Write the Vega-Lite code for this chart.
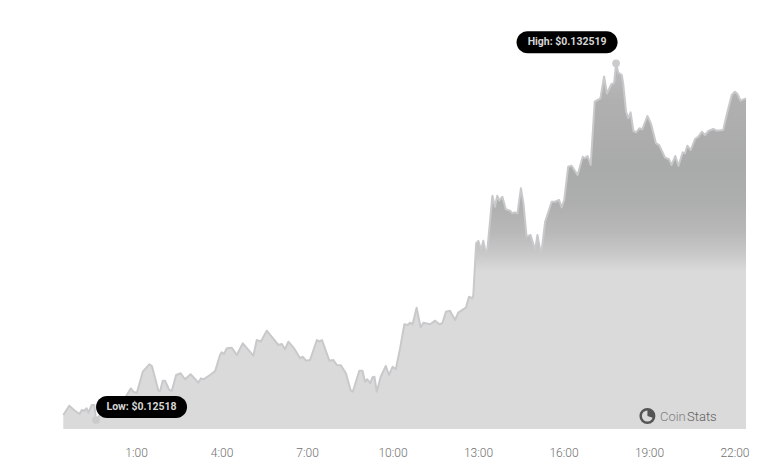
{
  "$schema": "https://vega.github.io/schema/vega-lite/v6.json",
  "width": 683,
  "height": 409,
  "autosize": {"type": "none"},
  "padding": {"left": 63, "top": 20, "right": 14, "bottom": 43},
  "background": "white",
  "datasets": {
    "prices": [
      {"hour":-1.59,"price":0.125288},{"hour":-1.38,"price":0.125479},{"hour":-1.18,"price":0.125376},{"hour":-1.02,"price":0.125308},{"hour":-0.94,"price":0.125391},{"hour":-0.86,"price":0.12537},{"hour":-0.77,"price":0.125426},{"hour":-0.71,"price":0.125335},{"hour":-0.59,"price":0.125493},{"hour":-0.5,"price":0.125493},{"hour":-0.44,"price":0.125185},{"hour":-0.16,"price":0.125391},{"hour":0.23,"price":0.125493},{"hour":0.58,"price":0.125637},{"hour":0.78,"price":0.125837},{"hour":0.87,"price":0.125767},{"hour":0.99,"price":0.12574},
      {"hour":1.2,"price":0.126178},{"hour":1.43,"price":0.12633},{"hour":1.52,"price":0.126295},{"hour":1.75,"price":0.125787},{"hour":1.81,"price":0.125781},{"hour":1.9,"price":0.125993},{"hour":1.98,"price":0.125993},{"hour":2.13,"price":0.125802},{"hour":2.22,"price":0.125787},{"hour":2.37,"price":0.12611},{"hour":2.53,"price":0.126145},{"hour":2.68,"price":0.126022},{"hour":2.88,"price":0.126125},{"hour":3.15,"price":0.125952},{"hour":3.24,"price":0.126042},{"hour":3.33,"price":0.126022},{"hour":3.56,"price":0.12611},{"hour":3.74,"price":0.126192},{"hour":3.91,"price":0.126521},{"hour":3.97,"price":0.126577},
      {"hour":4.05,"price":0.126542},{"hour":4.15,"price":0.126659},{"hour":4.32,"price":0.126672},{"hour":4.5,"price":0.126521},{"hour":4.71,"price":0.126762},{"hour":5.08,"price":0.126507},{"hour":5.2,"price":0.12683},{"hour":5.34,"price":0.126795},{"hour":5.55,"price":0.127021},{"hour":5.96,"price":0.126727},{"hour":6.08,"price":0.126748},{"hour":6.19,"price":0.126639},{"hour":6.31,"price":0.126795},{"hour":6.51,"price":0.126659},{"hour":6.72,"price":0.126454},{"hour":6.81,"price":0.126486},{"hour":6.93,"price":0.126404},
      {"hour":7.07,"price":0.126419},{"hour":7.31,"price":0.12683},{"hour":7.4,"price":0.126795},{"hour":7.49,"price":0.12683},{"hour":7.75,"price":0.126404},{"hour":7.89,"price":0.126419},{"hour":8.01,"price":0.126316},{"hour":8.15,"price":0.12631},{"hour":8.33,"price":0.126145},{"hour":8.5,"price":0.125787},{"hour":8.57,"price":0.125767},{"hour":8.8,"price":0.126199},{"hour":8.91,"price":0.126199},{"hour":9.0,"price":0.125972},{"hour":9.08,"price":0.126022},{"hour":9.18,"price":0.12594},{"hour":9.26,"price":0.126063},{"hour":9.33,"price":0.126075},{"hour":9.41,"price":0.125767},{"hour":9.55,"price":0.126075},{"hour":9.73,"price":0.126295},{"hour":9.84,"price":0.12611},{"hour":9.97,"price":0.126281},
      {"hour":10.08,"price":0.126227},{"hour":10.23,"price":0.126659},{"hour":10.38,"price":0.127153},{"hour":10.5,"price":0.127138},{"hour":10.58,"price":0.127186},{"hour":10.67,"price":0.127153},{"hour":10.81,"price":0.127494},{"hour":10.95,"price":0.127091},{"hour":11.05,"price":0.127186},{"hour":11.28,"price":0.127153},{"hour":11.46,"price":0.127227},{"hour":11.61,"price":0.127153},{"hour":11.71,"price":0.127173},{"hour":11.84,"price":0.127412},{"hour":11.98,"price":0.127432},{"hour":12.16,"price":0.127241},{"hour":12.27,"price":0.127391},{"hour":12.54,"price":0.127494},{"hour":12.65,"price":0.12772},{"hour":12.77,"price":0.127687},{"hour":12.8,"price":0.127755},{"hour":12.9,"price":0.128818},{"hour":12.98,"price":0.128865},
      {"hour":13.07,"price":0.12868},{"hour":13.15,"price":0.128871},{"hour":13.27,"price":0.128542},{"hour":13.47,"price":0.129797},{"hour":13.56,"price":0.12957},{"hour":13.64,"price":0.129797},{"hour":13.71,"price":0.129694},{"hour":13.82,"price":0.129776},{"hour":13.94,"price":0.129517},{"hour":14.09,"price":0.129488},{"hour":14.17,"price":0.129435},{"hour":14.26,"price":0.129455},{"hour":14.35,"price":0.129435},{"hour":14.47,"price":0.129949},{"hour":14.56,"price":0.12964},{"hour":14.67,"price":0.128954},{"hour":14.81,"price":0.128989},{"hour":14.97,"price":0.12868},{"hour":15.05,"price":0.128989},{"hour":15.18,"price":0.128577},{"hour":15.32,"price":0.129262},{"hour":15.55,"price":0.129673},{"hour":15.67,"price":0.129673},{"hour":15.81,"price":0.129708},{"hour":15.9,"price":0.129558},{"hour":15.99,"price":0.129708},
      {"hour":16.13,"price":0.130393},{"hour":16.25,"price":0.130413},{"hour":16.46,"price":0.130222},{"hour":16.64,"price":0.130598},{"hour":16.72,"price":0.130566},{"hour":16.81,"price":0.130613},{"hour":16.92,"price":0.130428},{"hour":17.06,"price":0.131729},{"hour":17.26,"price":0.131799},{"hour":17.39,"price":0.132247},{"hour":17.49,"price":0.131898},{"hour":17.64,"price":0.132083},{"hour":17.74,"price":0.132114},{"hour":17.81,"price":0.132519},{"hour":17.89,"price":0.132326},{"hour":18.01,"price":0.132278},{"hour":18.06,"price":0.132107},{"hour":18.16,"price":0.131524},{"hour":18.24,"price":0.131388},{"hour":18.32,"price":0.131511},{"hour":18.42,"price":0.131127},{"hour":18.51,"price":0.1311},{"hour":18.63,"price":0.131182},{"hour":18.73,"price":0.131162},{"hour":18.91,"price":0.131435},
      {"hour":19.04,"price":0.131271},{"hour":19.21,"price":0.130874},{"hour":19.32,"price":0.130839},{"hour":19.53,"price":0.130578},{"hour":19.67,"price":0.130545},{"hour":19.76,"price":0.130428},{"hour":19.89,"price":0.130613},{"hour":20.0,"price":0.130413},{"hour":20.15,"price":0.130689},{"hour":20.23,"price":0.130668},{"hour":20.31,"price":0.130825},{"hour":20.43,"price":0.130736},{"hour":20.58,"price":0.130962},{"hour":20.7,"price":0.13101},{"hour":20.82,"price":0.131112},{"hour":20.93,"price":0.131045},{"hour":21.05,"price":0.131127},{"hour":21.22,"price":0.131168},{"hour":21.34,"price":0.131133},{"hour":21.57,"price":0.131147},{"hour":21.69,"price":0.131456},{"hour":21.87,"price":0.131867},{"hour":21.98,"price":0.131935},{"hour":22.07,"price":0.131888},{"hour":22.18,"price":0.13175},{"hour":22.37,"price":0.131799}
    ],
    "extremes": [
      {"kind": "Low", "hour": -0.44, "price": 0.125185, "label": "Low: $0.12518"},
      {"kind": "High", "hour": 17.81, "price": 0.132519, "label": "High: $0.132519"}
    ],
    "logo": [{"hour": 18.91, "price": 0.125267}],
    "wordmark": [
      {"hour": 19.35, "price": 0.125247, "word": "Coin"},
      {"hour": 20.3, "price": 0.125247, "word": "Stats"}
    ]
  },
  "encoding": {
    "x": {
      "field": "hour",
      "type": "quantitative",
      "scale": {"domain": [-1.6, 22.37], "nice": false, "zero": false},
      "axis": {
        "title": null,
        "values": [1, 4, 7, 10, 13, 16, 19, 22],
        "labelExpr": "datum.value + ':00'",
        "domain": false,
        "ticks": false,
        "grid": false,
        "labelFont": "Roboto",
        "labelFontSize": 12,
        "labelFontWeight": 300,
        "labelColor": "#707070",
        "labelPadding": 18,
        "labelOffset": -1,
        "labelFlush": false
      }
    },
    "y": {
      "field": "price",
      "type": "quantitative",
      "scale": {"domain": [0.125, 0.133409], "nice": false, "zero": false},
      "axis": null
    }
  },
  "layer": [
    {
      "data": {"name": "prices"},
      "mark": {
        "type": "area",
        "color": {
          "gradient": "linear",
          "x1": 0, "y1": 0, "x2": 0, "y2": 1,
          "stops": [
            {"offset": 0, "color": "#bcbcbc"},
            {"offset": 0.1, "color": "#b0b0b1"},
            {"offset": 0.28, "color": "#a9aaaa"},
            {"offset": 0.38, "color": "#adaeae"},
            {"offset": 0.46, "color": "#b8b8b8"},
            {"offset": 0.52, "color": "#c8c8c8"},
            {"offset": 0.57, "color": "#dadada"},
            {"offset": 1, "color": "#dadada"}
          ]
        }
      },
      "encoding": {"y2": {"datum": 0.125}}
    },
    {
      "data": {"name": "prices"},
      "mark": {"type": "line", "color": "#c9c9cb", "strokeWidth": 2, "strokeJoin": "round"}
    },
    {
      "data": {"name": "extremes"},
      "mark": {"type": "point", "filled": true, "size": 60, "color": "#cbcbcd", "opacity": 1}
    },
    {
      "data": {"name": "extremes"},
      "transform": [{"filter": "datum.kind === 'Low'"}],
      "mark": {"type": "rect", "width": 91, "height": 22, "cornerRadius": 11, "color": "#000000", "xOffset": 45.5, "yOffset": -13}
    },
    {
      "data": {"name": "extremes"},
      "transform": [{"filter": "datum.kind === 'Low'"}],
      "mark": {"type": "text", "font": "Roboto", "fontSize": 10.5, "fontWeight": 700, "color": "#d6d6d6", "dx": 45.5, "dy": -13},
      "encoding": {"text": {"field": "label"}}
    },
    {
      "data": {"name": "extremes"},
      "transform": [{"filter": "datum.kind === 'High'"}],
      "mark": {"type": "rect", "width": 101, "height": 22, "cornerRadius": 11, "color": "#000000", "xOffset": -49, "yOffset": -21}
    },
    {
      "data": {"name": "extremes"},
      "transform": [{"filter": "datum.kind === 'High'"}],
      "mark": {"type": "text", "font": "Roboto", "fontSize": 10.5, "fontWeight": 700, "color": "#d6d6d6", "dx": -49, "dy": -21},
      "encoding": {"text": {"field": "label"}}
    },
    {
      "data": {"name": "logo"},
      "mark": {"type": "arc", "radius": 8, "radius2": 5.5, "theta": 0, "theta2": 6.2832, "color": "#555555"}
    },
    {
      "data": {"name": "logo"},
      "mark": {"type": "arc", "radius": 7, "radius2": 0, "theta": 0, "theta2": 1.9, "color": "#555555"}
    },
    {
      "data": {"name": "wordmark"},
      "mark": {"type": "text", "align": "left", "baseline": "middle", "font": "Roboto", "fontSize": 13, "fontWeight": 300},
      "encoding": {
        "text": {"field": "word"},
        "color": {"field": "word", "type": "nominal", "scale": {"domain": ["Coin", "Stats"], "range": ["#808080", "#5f5f5f"]}, "legend": null}
      }
    }
  ],
  "config": {"view": {"stroke": null}}
}
